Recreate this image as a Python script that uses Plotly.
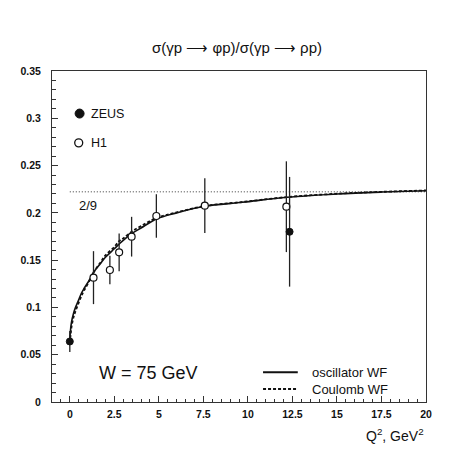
import plotly.graph_objects as go

# ---------------- data ----------------
zeus_q2 = [0.0, 12.34]
zeus_ratio = [0.064, 0.180]
zeus_err = [0.011, 0.058]

h1_q2 = [1.33, 2.25, 2.77, 3.47, 4.86, 7.58, 12.16]
h1_ratio = [0.1315, 0.1396, 0.1583, 0.1748, 0.1967, 0.2076, 0.2065]
h1_err = [0.028, 0.015, 0.020, 0.021, 0.023, 0.029, 0.048]

curve_q2 = [0, 0.05, 0.1, 0.2, 0.3, 0.5, 0.65, 0.8, 1.1, 1.33, 1.7, 2.0, 2.5,
            2.77, 3.0, 3.47, 4.0, 4.86, 6.0, 7.58, 9.7, 12.2, 15, 17.5, 20]
osc_wf = [0.067, 0.078, 0.085, 0.093, 0.099, 0.108, 0.115, 0.120, 0.129, 0.137,
          0.146, 0.153, 0.162, 0.167, 0.171, 0.178, 0.184, 0.1935, 0.200, 0.207,
          0.2112, 0.2165, 0.2200, 0.2220, 0.2234]
coulomb_wf = [0.062, 0.072, 0.080, 0.089, 0.095, 0.105, 0.112, 0.118, 0.128, 0.137,
              0.147, 0.155, 0.164, 0.170, 0.173, 0.180, 0.186, 0.1945, 0.2005, 0.2072,
              0.2115, 0.2167, 0.2202, 0.2222, 0.2237]

limit_q2 = [0, 20]
limit_ratio = [2 / 9, 2 / 9]

x_ticks = [0, 2.5, 5, 7.5, 10, 12.5, 15, 17.5, 20]
x_ticklabels = ["0", "2.5", "5", "7.5", "10", "12.5", "15", "17.5", "20"]
y_ticks = [0, 0.05, 0.1, 0.15, 0.2, 0.25, 0.3, 0.35]
y_ticklabels = ["0", "0.05", "0.1", "0.15", "0.2", "0.25", "0.3", "0.35"]

FONT = "Liberation Sans, Arial, Helvetica, sans-serif"
INK = "#111111"
PAGE_OFFSET = 8  # default body margin of the html page

fig = go.Figure()

# 2/9 asymptote
fig.add_trace(go.Scatter(x=limit_q2, y=limit_ratio, mode="lines",
                         line=dict(color="#333333", width=1, dash="1px,2px"),
                         showlegend=False, hoverinfo="skip"))
# curves
fig.add_trace(go.Scatter(x=curve_q2, y=coulomb_wf, mode="lines", line_shape="spline",
                         line=dict(color=INK, width=1.8, dash="3px,2px"),
                         showlegend=False))
fig.add_trace(go.Scatter(x=curve_q2, y=osc_wf, mode="lines", line_shape="spline",
                         line=dict(color=INK, width=1.6),
                         showlegend=False))
# data
fig.add_trace(go.Scatter(x=h1_q2, y=h1_ratio, mode="markers",
                         marker=dict(symbol="circle", size=7, color="white",
                                     line=dict(color=INK, width=1.2)),
                         error_y=dict(type="data", array=h1_err, visible=True,
                                      color="#222222", thickness=1.3, width=0),
                         showlegend=False))
fig.add_trace(go.Scatter(x=zeus_q2, y=zeus_ratio, mode="markers",
                         marker=dict(symbol="circle", size=7, color=INK,
                                     line=dict(color=INK, width=1)),
                         error_y=dict(type="data", array=zeus_err, visible=True,
                                      color="#222222", thickness=1.3, width=0),
                         showlegend=False))

# legend glyphs (top-left)
fig.add_trace(go.Scatter(x=[0.55], y=[0.305], mode="markers",
                         marker=dict(symbol="circle", size=9, color=INK,
                                     line=dict(color=INK, width=1)),
                         showlegend=False, hoverinfo="skip"))
fig.add_trace(go.Scatter(x=[0.5], y=[0.274], mode="markers",
                         marker=dict(symbol="circle", size=8, color="white",
                                     line=dict(color=INK, width=1.3)),
                         showlegend=False, hoverinfo="skip"))

annotations = [
    dict(x=1.05, y=0.305, text="ZEUS", xanchor="left", yanchor="middle", showarrow=False,
         font=dict(family=FONT, size=12.5, color=INK)),
    dict(x=1.05, y=0.274, text="H1", xanchor="left", yanchor="middle", showarrow=False,
         font=dict(family=FONT, size=12.5, color=INK)),
    dict(x=1.02, y=0.208, text="2/9", xanchor="center", yanchor="middle", showarrow=False,
         font=dict(family=FONT, size=13, color=INK)),
    dict(x=4.43, y=0.031, text="W = 75 GeV", xanchor="center", yanchor="middle", showarrow=False,
         font=dict(family=FONT, size=18, color=INK)),
    dict(x=13.47, y=0.0314, text="oscillator WF", xanchor="left", yanchor="middle", showarrow=False,
         font=dict(family=FONT, size=13, color=INK)),
    dict(x=13.47, y=0.0137, text="Coulomb WF", xanchor="left", yanchor="middle", showarrow=False,
         font=dict(family=FONT, size=13, color=INK)),
    dict(x=20, xref="x", y=-0.1, yref="paper", text="Q<sup>2</sup>, GeV<sup>2</sup>",
         xanchor="right", yanchor="middle", showarrow=False,
         font=dict(family=FONT, size=14, color=INK)),
]

shapes = [
    dict(type="line", x0=10.85, x1=12.8, y0=0.0314, y1=0.0314, xref="x", yref="y",
         line=dict(color=INK, width=2)),
    dict(type="line", x0=10.85, x1=12.8, y0=0.0137, y1=0.0137, xref="x", yref="y",
         line=dict(color=INK, width=2, dash="3px,2px")),
]

W = 474 - PAGE_OFFSET
H = 474 - PAGE_OFFSET
fig.update_layout(
    width=W, height=H,
    margin=dict(l=46 - PAGE_OFFSET, r=48, t=71 - PAGE_OFFSET, b=72),
    paper_bgcolor="white", plot_bgcolor="white",
    title=dict(text="σ(γp ⟶ φp)/σ(γp ⟶ ρp)", x=(237 - PAGE_OFFSET) / W, xanchor="center",
               y=1 - (48 - PAGE_OFFSET) / H, yanchor="middle", yref="container",
               font=dict(family=FONT, size=15, color=INK)),
    annotations=annotations, shapes=shapes,
    xaxis=dict(range=[-1, 20], showgrid=False, zeroline=False,
               showline=True, mirror=True, linecolor="#333333", linewidth=1,
               ticks="inside", ticklen=6, tickwidth=1, tickcolor="#333333",
               tickvals=x_ticks, ticktext=x_ticklabels, ticklabelstandoff=2,
               tickfont=dict(family=FONT, size=10.5, color=INK, weight="bold"),
               minor=dict(ticks="inside", ticklen=3.5, tick0=0, dtick=0.5, tickcolor="#333333",
                          showgrid=False)),
    yaxis=dict(range=[0, 0.35], showgrid=False, zeroline=False,
               showline=True, mirror=True, linecolor="#333333", linewidth=1,
               ticks="inside", ticklen=6, tickwidth=1, tickcolor="#333333",
               tickvals=y_ticks, ticktext=y_ticklabels, ticklabelstandoff=8,
               tickfont=dict(family=FONT, size=10.5, color=INK, weight="bold"),
               minor=dict(ticks="inside", ticklen=3.5, tick0=0, dtick=0.01, tickcolor="#333333",
                          showgrid=False)),
)

fig.write_html("out.html")
